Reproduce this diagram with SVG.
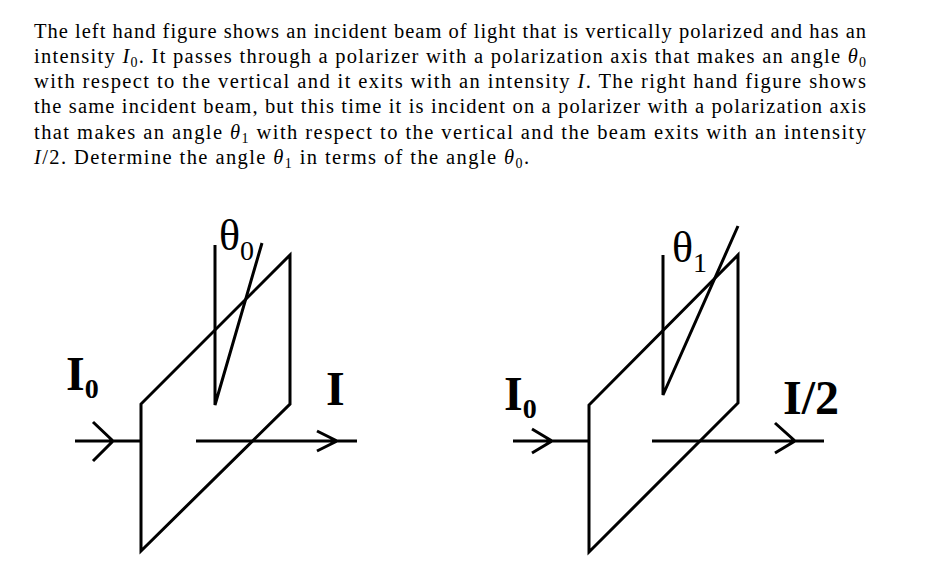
<svg xmlns="http://www.w3.org/2000/svg" width="926" height="580" viewBox="0 0 926 580">
<style>
.t{font-family:"Liberation Serif",serif;font-size:20.5px;fill:#000}
.l{stroke:#000;stroke-width:3;fill:none;stroke-linejoin:miter}
.b{font-family:"Liberation Serif",serif;font-weight:bold;font-size:48px;fill:#000}
.g{font-family:"Liberation Serif",serif;font-size:44px;fill:#000}
.s{font-size:28px}
</style>
<rect width="926" height="580" fill="#fff"/>
<g id="text">
<text class="t" x="34" y="38" textLength="832" lengthAdjust="spacing">The left hand figure shows an incident beam of light that is vertically polarized and has an</text>
<text class="t" x="34" y="63" textLength="832" lengthAdjust="spacing">intensity <tspan font-style="italic">I</tspan><tspan font-size="14" dy="4">0</tspan><tspan dy="-4">. It passes through a polarizer with a polarization axis that makes an angle </tspan><tspan font-style="italic">θ</tspan><tspan font-size="14" dy="4">0</tspan></text>
<text class="t" x="34" y="88" textLength="832" lengthAdjust="spacing">with respect to the vertical and it exits with an intensity <tspan font-style="italic">I</tspan>. The right hand figure shows</text>
<text class="t" x="34" y="113" textLength="832" lengthAdjust="spacing">the same incident beam, but this time it is incident on a polarizer with a polarization axis</text>
<text class="t" x="34" y="139" textLength="832" lengthAdjust="spacing">that makes an angle <tspan font-style="italic">θ</tspan><tspan font-size="14" dy="4">1</tspan><tspan dy="-4"> with respect to the vertical and the beam exits with an intensity</tspan></text>
<text class="t" x="34" y="164" textLength="495" lengthAdjust="spacing"><tspan font-style="italic">I</tspan>/2. Determine the angle <tspan font-style="italic">θ</tspan><tspan font-size="14" dy="4">1</tspan><tspan dy="-4"> in terms of the angle </tspan><tspan font-style="italic">θ</tspan><tspan font-size="14" dy="4">0</tspan><tspan dy="-4">.</tspan></text>
</g>
<g id="left-polarizer">
<path class="l" d="M141,551 L141,404 L290,255 L290,404 Z"/>
<path class="l" d="M215,245 L215,405 L262,243"/>
<text class="g" x="219" y="250">θ<tspan class="s" dy="10">0</tspan></text>
</g>
<g id="left-labels">
<text class="b" x="66" y="390">I<tspan class="s" dy="8">0</tspan></text>
<text class="b" x="326" y="405">I</text>
</g>
<g id="right-polarizer">
<path class="l" d="M589,552 L589,405 L738,255 L738,403 Z"/>
<path class="l" d="M663,255 L663,395 L738,226"/>
<text class="g" x="672" y="262">θ<tspan class="s" dy="10">1</tspan></text>
</g>
<g id="right-labels">
<text class="b" x="504" y="410">I<tspan class="s" dy="8">0</tspan></text>
<text class="b" x="783" y="414">I/2</text>
</g>
<g id="connectors">
<path class="l" d="M75,441 L141,441 M93,422 L113,441 L93,461"/>
<path class="l" d="M196,441 L357,441 M317,431 L337,441 L317,451"/>
<path class="l" d="M513,441 L589,441 M532,429 L552,441 L532,453"/>
<path class="l" d="M652,441 L824,441 M775,423 L795,441 L775,453"/>
</g>
</svg>
